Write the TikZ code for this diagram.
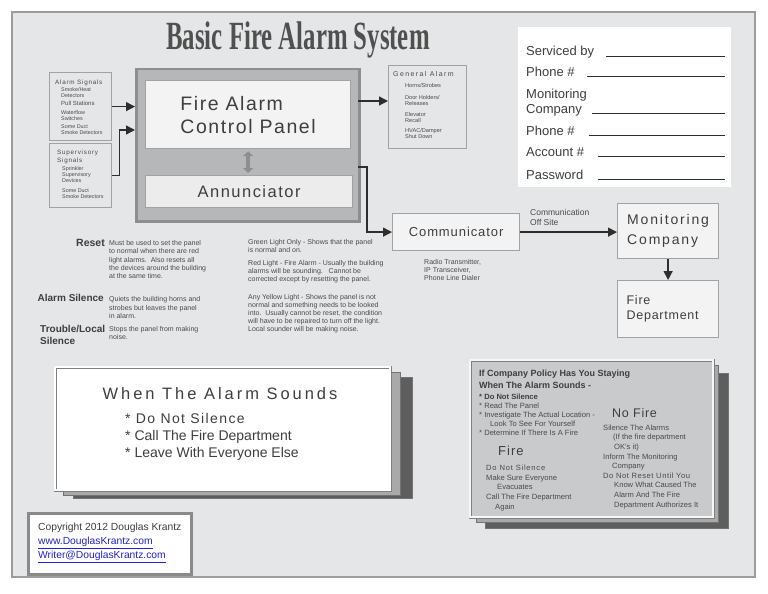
\documentclass[tikz,border=0pt]{standalone}
\usepackage{graphicx}
\usepackage{fontspec}
\setmainfont{Liberation Sans}
\newfontfamily\titlefont{Liberation Serif}
\usepackage{tikz}
\usetikzlibrary{arrows.meta,positioning}

\definecolor{bgfill}{HTML}{E4E6E8}
\definecolor{framec}{HTML}{9C9C9C}
\definecolor{panelfill}{HTML}{B5B7B9}
\definecolor{paneledge}{HTML}{8E8E8E}
\definecolor{boxedge}{HTML}{A2A2A2}
\definecolor{boxfill}{HTML}{F3F3F3}
\definecolor{annfill}{HTML}{ECECEC}
\definecolor{inktext}{HTML}{3E3E3E}
\definecolor{smalltext}{HTML}{4A4A4A}
\definecolor{titlec}{HTML}{505050}
\definecolor{arrowc}{HTML}{2E2E2E}
\definecolor{dblarrow}{HTML}{8E8E8E}
\definecolor{shadelight}{HTML}{A9A9A9}
\definecolor{shadedark}{HTML}{5E5E5E}
\definecolor{policyfill}{HTML}{C9CACB}
\definecolor{copyedge}{HTML}{8A8A8A}
\definecolor{linkblue}{HTML}{2222CC}

\newcommand{\fsz}[2]{\fontsize{#1}{#2}\selectfont}
\newcommand{\wide}[1]{\addfontfeature{LetterSpace=#1}}

\begin{document}
\begin{tikzpicture}[x=1pt,y=-1pt,
  box/.style={draw=boxedge,line width=1.2pt,inner sep=0pt,anchor=north west,text=inktext},
  lbl/.style={inner sep=0pt,anchor=north west,align=left,text=smalltext},
  infolbl/.style={inner sep=0pt,anchor=base west,font=\fsz{13}{15},text=inktext},
  formline/.style={draw=arrowc,line width=0.9pt},
  arr/.style={draw=arrowc,line width=1.3pt,-{Triangle[length=9pt,width=9pt]}},
  sheet/.style={fill=#1,draw=black!55,line width=0.6pt}]
  \fill[white] (0,0) rectangle (768,594);
  \path[use as bounding box] (0,0) rectangle (768,594);
  \draw[fill=bgfill,draw=framec,line width=1.5pt] (12,12) rectangle (755,577);
  \node[text=titlec,inner sep=0pt] (title) at (298,40) {\titlefont\bfseries\fsz{40}{40}\scalebox{0.62}[1]{Basic Fire Alarm System}};

  % panel
  \node[box,draw=paneledge,line width=2.5pt,fill=panelfill,minimum width=223pt,minimum height=152pt] (panel) at (135,68) {};
  \node[box,fill=boxfill,minimum width=205pt,minimum height=68pt,align=left,font=\fsz{19.5}{23}\wide{8}] (facp) at (145,80) {Fire Alarm\\Control Panel};
  \node[box,fill=annfill,minimum width=207pt,minimum height=32pt,font=\fsz{16.5}{18}\wide{9}] (annun) at (145,175) {Annunciator};
  \draw[draw=dblarrow,line width=3.5pt,{Triangle[length=5pt,width=10pt]}-{Triangle[length=5pt,width=10pt]},shorten >=2pt,shorten <=2pt] (facp.south) -- (facp.south |- annun.north);

  % inputs and outputs
  \node[box,fill=bgfill,minimum width=62pt,minimum height=68pt] (alarmsig) at (49,72) {};
  \node[lbl,font=\fsz{6.3}{8}\wide{12}] (alarmhead) at (55,79.7) {Alarm Signals};
  \node[lbl,font=\fsz{5.4}{6}] (alarmitems) at (61,87) {Smoke/Heat\\Detectors\\[2.5pt]{\fsz{6}{6}Pull Stations}\\[2.5pt]Waterflow\\Switches\\[2.5pt]Some Duct\\Smoke Detectors};
  \node[box,fill=bgfill,minimum width=62pt,minimum height=64pt] (supsig) at (49,143) {};
  \node[lbl,font=\fsz{6.3}{8}\wide{12}] (suphead) at (57,149.7) {Supervisory\\Signals};
  \node[lbl,font=\fsz{5.4}{6.3}] (supitems) at (62,166) {Sprinkler\\Supervisory\\Devices\\[3.5pt]Some Duct\\Smoke Detectors};
  \node[box,fill=bgfill,minimum width=78pt,minimum height=83pt] (galarm) at (388,65) {};
  \node[lbl,font=\fsz{7}{8}\wide{20}] (gahead) at (393,71.5) {General Alarm};
  \node[lbl,font=\fsz{5.6}{6.3}] (gaitems) at (405,83) {Horns/Strobes\\[6pt]Door Holders/\\Releases\\[4.5pt]Elevator\\Recall\\[3pt]HVAC/Damper\\Shut Down};

  % service card
  \node[fill=white,inner sep=0pt,anchor=north west,minimum width=213pt,minimum height=160pt] (infobox) at (518,27) {};
  \foreach \txt/\yb/\xl [count=\k] in {Serviced by/56/606,Phone \#/76/587,Company/113/592,Phone \#/135/589,Account \#/156/598,Password/179/598}{
    \node[infolbl] (info\k) at (526,\yb) {\txt};
    \draw[formline] (\xl,\yb) -- (725,\yb);
  }
  \node[infolbl] (infomon) at (526,98) {Monitoring};

  % buttons and lights
  \node[inner sep=0pt,anchor=base east,font=\bfseries\fsz{10.5}{12},text=inktext] (resetlbl) at (105,246.5) {Reset};
  \node[lbl,font=\fsz{7}{8.2}] (resettxt) at (109,240.5) {Must be used to set the panel\\to normal when there are red\\light alarms.\ \ Also resets all\\the devices around the building\\at the same time.};
  \node[inner sep=0pt,anchor=base east,font=\bfseries\fsz{10}{12},text=inktext] (silencelbl) at (104,301.6) {Alarm Silence};
  \node[lbl,font=\fsz{7}{8.5}] (silencetxt) at (109,296.5) {Quiets the building horns and\\strobes but leaves the panel\\in alarm.};
  \node[lbl,font=\bfseries\fsz{10}{11.5},text=inktext] (troublelbl) at (40,325.5) {Trouble/Local\\Silence};
  \node[lbl,font=\fsz{7}{8}] (troubletxt) at (109,326.5) {Stops the panel from making\\noise.};
  \node[lbl,font=\fsz{7}{7.9}] (lightstxt) at (248,239.5) {Green Light Only - Shows that the panel\\is normal and on.\\[5.2pt]Red Light - Fire Alarm - Usually the building\\alarms will be sounding.\ \ \ Cannot be\\corrected except by resetting the panel.\\[10pt]Any Yellow Light - Shows the panel is not\\normal and something needs to be looked\\into.\ \ Usually cannot be reset, the condition\\will have to be repaired to turn off the light.\\Local sounder will be making noise.};

  % off site
  \node[box,fill=boxfill,minimum width=127pt,minimum height=37pt,font=\fsz{13}{15}\wide{7}] (comm) at (392,213) {Communicator};
  \node[lbl,font=\fsz{7}{8}] (commtxt) at (424,259.5) {Radio Transmitter,\\IP Transceiver,\\Phone Line Dialer};
  \node[lbl,font=\fsz{8.5}{10}] (offsite) at (530,209) {Communication\\Off Site};
  \node[box,fill=boxfill,minimum width=101pt,minimum height=55pt,align=left,font=\fsz{14}{20}\wide{13}] (mon) at (617,203) {Monitoring\\Company};
  \node[box,fill=boxfill,minimum width=101pt,minimum height=57pt,align=left,text width=83pt,font=\fsz{12.5}{15}\wide{6}] (firedept) at (617,280) {Fire\\Department};

  \coordinate (supin) at (135,130);
  \coordinate (gaout) at (358,101);
  \coordinate (commout) at (358,167);
  \draw[arr] (alarmsig.east) -- (alarmsig.east -| panel.west);
  \draw[arr] (supsig.east) -- ++(7,0) |- (supin);
  \draw[arr] (gaout) -- (gaout -| galarm.west);
  \draw[arr] (commout) -- ++(9,0) |- (comm.west);
  \draw[arr] (comm.east) -- (comm.east -| mon.west);
  \draw[arr] (mon.south) -- (firedept.north);

  % when the alarm sounds
  \filldraw[sheet=shadedark] (73,377) rectangle (412,498);
  \filldraw[sheet=shadelight] (63,372) rectangle (400,495);
  \node[box,draw=black!50,line width=0.6pt,double=white,double distance=2pt,fill=white,minimum width=335pt,minimum height=123pt] (sounds) at (55,367) {};
  \node[inner sep=0pt,font=\fsz{16.5}{18}\wide{18},text=inktext] (soundshead) at (220,394) {When The Alarm Sounds};
  \node[lbl,font=\fsz{14}{17},text=inktext] (soundslist) at (125,413) {{\wide{10}* Do Not Silence}\\* Call The Fire Department\\* Leave With Everyone Else};

  % company policy
  \filldraw[sheet=shadedark] (485,373) rectangle (728,528);
  \filldraw[sheet=shadelight] (476,365) rectangle (718,522);
  \node[box,draw=black!50,line width=0.6pt,double=white!85!policyfill,double distance=2pt,fill=policyfill,minimum width=243pt,minimum height=157pt] (policy) at (470,360) {};
  \node[lbl,font=\bfseries\fsz{9}{11.7},text=inktext] (policyhead) at (479,370) {If Company Policy Has You Staying\\When The Alarm Sounds -};
  \node[lbl,font=\fsz{7.6}{9.2}] (policysteps) at (479,393.3) {{\bfseries\color{inktext}* Do Not Silence}\\* Read The Panel\\* Investigate The Actual Location -\\\hspace*{11pt}Look To See For Yourself\\* Determine If There Is A Fire};
  \node[inner sep=0pt,anchor=west,font=\fsz{13}{15}\wide{8},text=inktext] (firehead) at (498,451) {Fire};
  \node[lbl,font=\fsz{7.6}{9.8}] (firesteps) at (486,464.5) {{\wide{10}Do Not Silence}\\Make Sure Everyone\\\hspace*{11pt}Evacuates\\Call The Fire Department\\\hspace*{9pt}Again};
  \node[inner sep=0pt,anchor=west,font=\fsz{12.5}{15}\wide{6},text=inktext] (nofirehead) at (612,413) {No Fire};
  \node[lbl,font=\fsz{7.6}{9.6}] (nofiresteps) at (603,424.5) {Silence The Alarms\\\hspace*{10pt}(If the fire department\\\hspace*{11pt}OK's it)\\Inform The Monitoring\\\hspace*{9pt}Company\\{\wide{7}Do Not Reset Until You}\\\hspace*{11pt}Know What Caused The\\\hspace*{11pt}Alarm And The Fire\\\hspace*{11pt}Department Authorizes It};

  % copyright
  \node[box,draw=copyedge,line width=3pt,fill=white,minimum width=163pt,minimum height=61pt] (copybox) at (27,512) {};
  \node[lbl,font=\fsz{10.3}{14},text=inktext] (copytxt) at (38,522.5) {Copyright 2012 Douglas Krantz\\\textcolor{linkblue}{\underline{www.DouglasKrantz.com}}\\\textcolor{linkblue}{\underline{Writer@DouglasKrantz.com}}};
\end{tikzpicture}
\end{document}
